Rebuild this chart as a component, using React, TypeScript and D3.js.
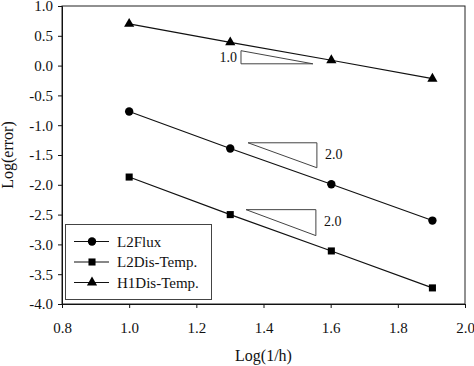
import React, { useEffect, useRef } from 'react';
import * as d3 from 'd3';

const xValues = [1.0, 1.301, 1.602, 1.903];
const l2Flux = [-0.77, -1.39, -1.99, -2.6];
const l2DisTemp = [-1.87, -2.5, -3.11, -3.73];
const h1DisTemp = [0.7, 0.39, 0.09, -0.22];

const xTicks = [0.8, 1.0, 1.2, 1.4, 1.6, 1.8, 2.0];
const yTicks = [1.0, 0.5, 0.0, -0.5, -1.0, -1.5, -2.0, -2.5, -3.0, -3.5, -4.0];

// slope triangles in data units
const slopeTris = [
  { x0: 1.333, x1: 1.547, yTop: 0.25, yBot: 0.03, label: '1.0', side: 'left', ly: 0.14 },
  { x0: 1.354, x1: 1.559, yTop: -1.295, yBot: -1.714, label: '2.0', side: 'right', ly: -1.49 },
  { x0: 1.348, x1: 1.556, yTop: -2.417, yBot: -2.853, label: '2.0', side: 'right', ly: -2.6 },
];

const series = [
  { name: 'L2Flux', values: l2Flux, symbol: d3.symbolCircle, size: 55 },
  { name: 'L2Dis-Temp.', values: l2DisTemp, symbol: d3.symbolSquare, size: 50 },
  { name: 'H1Dis-Temp.', values: h1DisTemp, symbol: d3.symbolTriangle, size: 45 },
];

const font = 'Liberation Serif, Times New Roman, serif';

export default function App() {
  const svgRef = useRef<SVGSVGElement>(null);

  useEffect(() => {
    if (!svgRef.current) return;
    const svg = d3.select(svgRef.current);
    svg.selectAll('*').remove();

    const margin = { top: 6, right: 9, bottom: 62, left: 62 };
    const width = 474;
    const height = 366;

    const x = d3.scaleLinear().domain([0.8, 2.0]).range([margin.left, width - margin.right]);
    const y = d3.scaleLinear().domain([-4.0, 1.0]).range([height - margin.bottom, margin.top]);

    // frame (top + right)
    svg.append('rect')
      .attr('x', x(0.8)).attr('y', y(1.0))
      .attr('width', x(2.0) - x(0.8)).attr('height', y(-4.0) - y(1.0))
      .attr('fill', 'none').attr('stroke', '#222').attr('stroke-width', 1);

    const fmt = (d: any) => d3.format('.1f')(d).replace('−', '-');
    const xAxis = svg.append('g')
      .attr('transform', `translate(0,${y(-4.0)})`)
      .call(d3.axisBottom(x).tickValues(xTicks).tickFormat(fmt).tickSize(4).tickPadding(14));
    const yAxis = svg.append('g')
      .attr('transform', `translate(${x(0.8)},0)`)
      .call(d3.axisLeft(y).tickValues(yTicks).tickFormat(fmt).tickSize(4).tickPadding(5));

    [xAxis, yAxis].forEach(a => {
      a.attr('font-family', font).attr('font-size', 15);
      a.selectAll('text').attr('fill', '#111');
      a.selectAll('line').attr('stroke', '#111');
      a.select('.domain').attr('stroke', '#111');
    });

    // axis titles
    svg.append('text')
      .attr('x', x(1.4)).attr('y', 361)
      .attr('text-anchor', 'middle')
      .attr('font-family', font).attr('font-size', 16).attr('fill', '#111')
      .text('Log(1/h)');
    svg.append('text')
      .attr('transform', `translate(13,${y(-1.5)}) rotate(-90)`)
      .attr('text-anchor', 'middle')
      .attr('font-family', font).attr('font-size', 16).attr('fill', '#111')
      .text('Log(error)');

    // slope triangles
    slopeTris.forEach(t => {
      const pts: [number, number][] = t.side === 'left'
        ? [[x(t.x0), y(t.yTop)], [x(t.x0), y(t.yBot)], [x(t.x1), y(t.yBot)]]
        : [[x(t.x0), y(t.yTop)], [x(t.x1), y(t.yTop)], [x(t.x1), y(t.yBot)]];
      svg.append('path')
        .attr('d', d3.line()(pts) + 'Z')
        .attr('fill', 'none').attr('stroke', '#444').attr('stroke-width', 1);
      svg.append('text')
        .attr('x', t.side === 'left' ? x(t.x0) - 4 : x(t.x1) + 8)
        .attr('y', y(t.ly) + 5)
        .attr('text-anchor', t.side === 'left' ? 'end' : 'start')
        .attr('font-family', font).attr('font-size', 14).attr('fill', '#111')
        .text(t.label);
    });

    // series
    const line = d3.line<number>().x((_, i) => x(xValues[i])).y(d => y(d));
    series.forEach(s => {
      svg.append('path')
        .attr('d', line(s.values))
        .attr('fill', 'none').attr('stroke', '#111').attr('stroke-width', 1.2);
      svg.append('g').selectAll('path')
        .data(s.values)
        .join('path')
        .attr('transform', (d, i) => `translate(${x(xValues[i])},${y(d)})`)
        .attr('d', d3.symbol().type(s.symbol).size(s.size)())
        .attr('fill', '#000');
    });

    // legend
    const lg = svg.append('g');
    lg.append('rect')
      .attr('x', 65.5).attr('y', 224.5).attr('width', 146).attr('height', 75)
      .attr('fill', '#fff').attr('stroke', '#444').attr('stroke-width', 1);
    series.forEach((s, i) => {
      const ly = 241.5 + i * 20.5;
      lg.append('line')
        .attr('x1', 74).attr('x2', 109).attr('y1', ly).attr('y2', ly)
        .attr('stroke', '#111').attr('stroke-width', 1.2);
      lg.append('path')
        .attr('transform', `translate(92,${ly})`)
        .attr('d', d3.symbol().type(s.symbol).size(s.size)())
        .attr('fill', '#000');
      lg.append('text')
        .attr('x', 117).attr('y', ly + 5)
        .attr('font-family', font).attr('font-size', 15).attr('fill', '#111')
        .text(s.name);
    });
  }, []);

  return (
    <svg
      ref={svgRef}
      width={474}
      height={366}
      style={{ position: 'absolute', left: 0, top: 0, background: '#fff' }}
    />
  );
}
